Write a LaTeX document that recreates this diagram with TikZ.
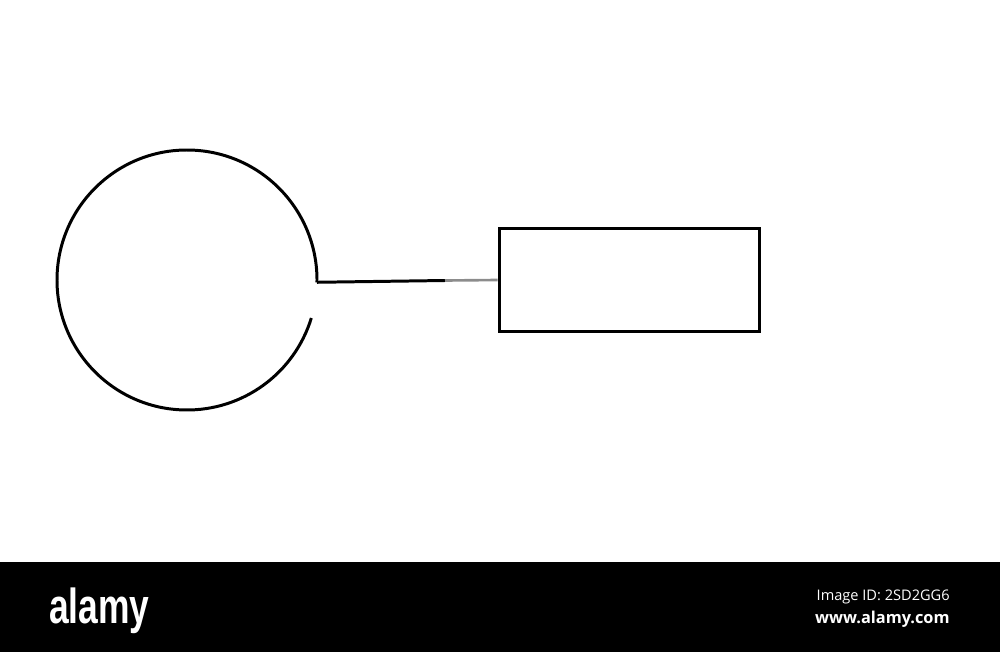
\documentclass[tikz,border=0pt]{standalone}
\usepackage{fontspec}
\setmainfont{Open Sans}
\newfontfamily\logofont{Liberation Sans}
\usetikzlibrary{positioning}

\tikzset{
  outline/.style={line width=1.7pt, draw=black},
  boxnode/.style={outline, rectangle, minimum width=5.22cm, minimum height=2.08cm, inner sep=0pt},
  banner/.style={fill=black},
  bannertext/.style={text=white, inner sep=0pt, anchor=base east}
}

\begin{document}
\begin{tikzpicture}[x=0.02cm, y=-0.02cm]

  \useasboundingbox (0,0) rectangle (1000,652);

  % open circle
  \draw [outline] (187,280) ++(1:130) coordinate (cend)
    arc [start angle=1, end angle=-343, radius=130];

  % box and its lead
  \node (box) [boxnode] at (629.5,280) {};
  \coordinate (fade) at (445,280.5);
  \draw [outline] (cend) -- (fade);
  \draw [line width=1.5pt, draw=black!45] (fade) -- (box.west);

  % banner
  \fill [banner] (0,562) rectangle (1000,652);
  \node (logo) [text=white, inner sep=0pt, anchor=base west, xscale=0.72]
    at (49,623) {\logofont\bfseries\fontsize{28}{28}\selectfont alamy};
  \node (imgid) [bannertext] at (950,600) {\fontsize{8.3}{9}\selectfont Image ID: 2SD2GG6};
  \node (site) [bannertext, below=6pt of imgid.base east, anchor=north east]
    {\bfseries\fontsize{9.3}{10}\selectfont www.alamy.com};

\end{tikzpicture}
\end{document}
